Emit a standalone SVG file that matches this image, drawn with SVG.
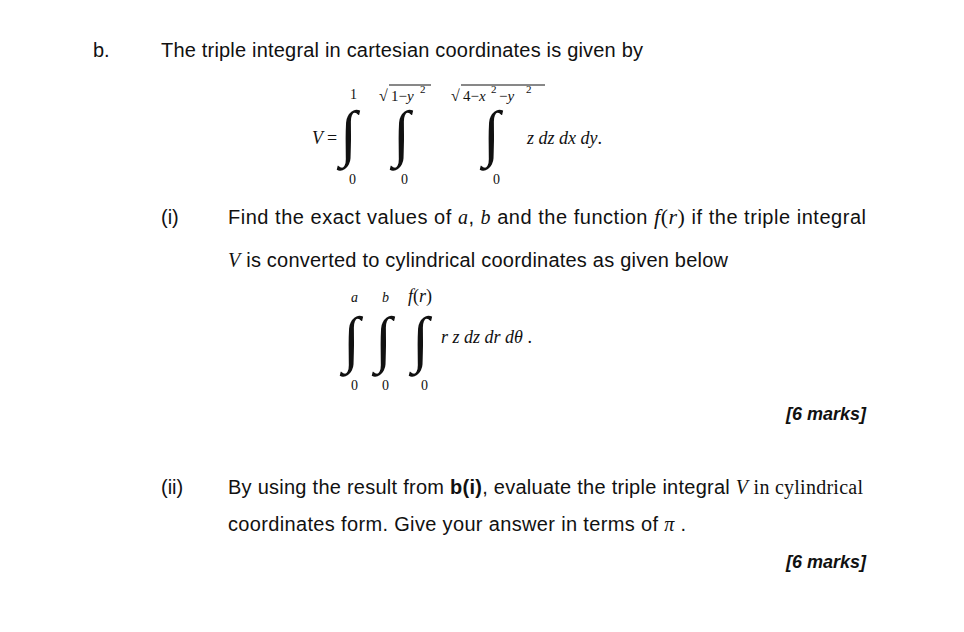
<svg xmlns="http://www.w3.org/2000/svg" width="964" height="632" viewBox="0 0 964 632">
<style>
.t{font-family:"Liberation Sans",Arial,sans-serif;font-size:20px;fill:#111}
.m{font-family:"Liberation Serif","Times New Roman",serif;font-style:italic;fill:#111}
.n{font-family:"Liberation Serif","Times New Roman",serif;fill:#111}
.i{font-family:"Liberation Serif","Times New Roman",serif;font-size:62px;fill:#111}
.b{font-family:"Liberation Sans",Arial,sans-serif;font-size:18px;font-weight:bold;font-style:italic;fill:#111}
.r{stroke:#111;stroke-width:1;fill:none}
</style>
<rect width="964" height="632" fill="#fff"/>
<text class="t" x="93" y="57">b.</text>
<text class="t" x="161" y="57" textLength="482">The triple integral in cartesian coordinates is given by</text>
<g id="eq1">
<text class="m" x="312" y="144" font-size="18">V</text><text class="n" x="327" y="144" font-size="18">=</text>
<text class="i" x="340" y="154">∫</text><text class="i" x="393" y="154">∫</text><text class="i" x="483" y="154">∫</text>
<text class="n" x="350" y="99" font-size="14">1</text>
<text class="n" x="379" y="101" font-size="16">√</text>
<path class="r" d="M389 85 H431"/>
<text class="n" x="391" y="101" font-size="15">1−<tspan font-style="italic">y</tspan></text>
<text class="n" x="420" y="93" font-size="11">2</text>
<text class="n" x="451" y="101" font-size="16">√</text>
<path class="r" d="M461 85 H545"/>
<text class="n" x="463" y="101" font-size="15">4−<tspan font-style="italic">x</tspan></text>
<text class="n" x="491" y="93" font-size="11">2</text>
<text class="n" x="499" y="101" font-size="15">−<tspan font-style="italic">y</tspan></text>
<text class="n" x="526" y="93" font-size="11">2</text>
<text class="n" x="349" y="184" font-size="14">0</text><text class="n" x="401" y="184" font-size="14">0</text><text class="n" x="493" y="184" font-size="14">0</text>
<text class="m" x="527" y="144" font-size="18">z dz dx dy<tspan font-style="normal">.</tspan></text>
</g>
<text class="t" x="161" y="224">(i)</text>
<text class="t" x="228" y="224" textLength="638">Find the exact values of <tspan class="m" font-size="20">a</tspan>, <tspan class="m" font-size="20">b</tspan> and the function <tspan class="m" font-size="22">f</tspan><tspan class="n" font-size="22">(</tspan><tspan class="m" font-size="22">r</tspan><tspan class="n" font-size="22">)</tspan> if the triple integral</text>
<text class="t" x="228" y="267" textLength="500"><tspan class="m" font-size="20">V</tspan> is converted to cylindrical coordinates as given below</text>
<g id="eq2">
<text class="i" x="343" y="360">∫</text><text class="i" x="375" y="360">∫</text><text class="i" x="412" y="360">∫</text>
<text class="m" x="351" y="302" font-size="14">a</text><text class="m" x="382" y="302" font-size="14">b</text>
<text class="m" x="408" y="302" font-size="18">f<tspan font-style="normal">(</tspan>r<tspan font-style="normal">)</tspan></text>
<text class="n" x="351" y="390" font-size="14">0</text><text class="n" x="382" y="390" font-size="14">0</text><text class="n" x="421" y="390" font-size="14">0</text>
<text class="m" x="441" y="343" font-size="18">r z dz dr dθ<tspan font-style="normal"> .</tspan></text>
</g>
<text class="b" x="866" y="420" text-anchor="end">[6 marks]</text>
<text class="t" x="161" y="494">(ii)</text>
<text class="t" x="228" y="494" textLength="635">By using the result from <tspan font-weight="bold">b(i)</tspan>, evaluate the triple integral <tspan class="m" font-size="20">V</tspan><tspan class="n" font-size="20"> in cylindrical</tspan></text>
<text class="t" x="228" y="531" textLength="458">coordinates form. Give your answer in terms of <tspan class="m" font-size="20">π</tspan> .</text>
<text class="b" x="866" y="568" text-anchor="end">[6 marks]</text>
</svg>
